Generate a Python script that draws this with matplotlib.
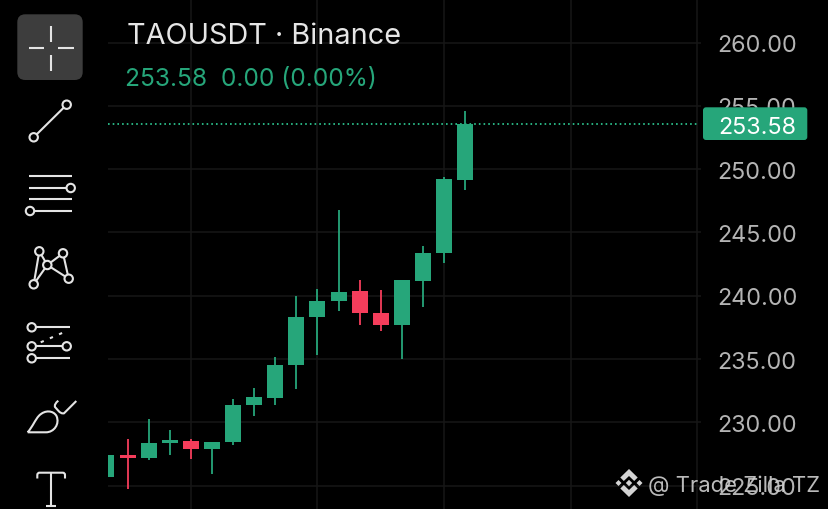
import matplotlib
matplotlib.use("Agg")
import matplotlib.pyplot as plt
from matplotlib.patches import Circle, FancyBboxPatch, PathPatch, Polygon
from matplotlib.path import Path

plt.rcParams['font.family'] = ['Inter', 'DejaVu Sans']

opens = [225.69, 227.45, 227.21, 228.34, 228.55, 227.87, 228.42, 231.40, 231.95,
         234.50, 238.33, 239.56, 240.41, 238.67, 237.70, 241.20, 243.35, 249.18]
highs = [227.39, 228.71, 230.29, 229.42, 228.71, 228.45, 231.82, 232.69, 235.14,
         239.96, 240.54, 246.81, 241.28, 240.46, 241.22, 243.94, 249.36, 254.63]
lows = [225.69, 224.76, 227.00, 227.45, 227.11, 225.89, 228.24, 230.51, 231.34,
        232.66, 235.33, 238.77, 237.72, 237.19, 235.01, 239.12, 242.59, 248.39]
closes = [227.39, 227.21, 228.34, 228.61, 227.87, 228.45, 231.40, 231.98, 234.56,
          238.35, 239.59, 240.30, 238.61, 237.66, 241.22, 243.38, 249.20, 253.58]
price_ticks = [225, 230, 235, 240, 245, 250, 255, 260]
time_grid = [4, 10, 16, 22, 28]
last_price = 253.58
title = "TAOUSDT · Binance"
subtitle = "253.58  0.00 (0.00%)"
watermark = "@ Trade Zilla TZ"

W, H = 829, 510
GREEN = "#26a67a"
RED = "#f53d5b"
GRID = "#171717"
ICON = "#e4e4e4"

fig = plt.figure(figsize=(W / 100, H / 100), dpi=100, facecolor="black")

# main price axes
ax = fig.add_axes([108 / W, 0, (701 - 108) / W, 1], facecolor="black")
ppu = 12.657
ax.set_ylim(260 - (H - 43.6) / ppu, 260 + 43.6 / ppu)
spacing = 21.1
ax.set_xlim((108 - 106.5) / spacing, (701 - 106.5) / spacing)
for s in ax.spines.values():
    s.set_visible(False)
ax.set_yticks(price_ticks)
ax.set_yticklabels([f"{t:.2f}" for t in price_ticks])
ax.yaxis.tick_right()
ax.tick_params(axis='y', length=0, pad=12.0, labelsize=16.8, labelcolor="#b4b4b4")
ax.set_xticks(time_grid)
ax.tick_params(axis='x', length=0, labelbottom=False)
ax.grid(True, color=GRID, lw=1.1)
ax.set_axisbelow(True)

xs = list(range(len(opens)))
colors = [GREEN if c >= o else RED for o, c in zip(opens, closes)]
ax.vlines(xs, lows, highs, colors=colors, lw=1.3, zorder=3)
ax.bar(xs, [abs(c - o) for o, c in zip(opens, closes)],
       bottom=[min(o, c) for o, c in zip(opens, closes)],
       width=16 / spacing, color=colors, zorder=4)
ax.hlines(last_price, ax.get_xlim()[0], time_grid[-1], colors="#2cc08c", lw=1.3,
          linestyles=[(0, (0.9, 1.7))], zorder=2)

# overlay in pixel coordinates: toolbar, headers, price tag, watermark
ov = fig.add_axes([0, 0, 1, 1], facecolor="none")
ov.set_xlim(0, W)
ov.set_ylim(H, 0)
ov.axis("off")

ov.text(127, 44, title, color="#e6e6e6", fontsize=20.8, va="baseline", ha="left")
ov.text(125.5, 86, subtitle, color=GREEN, fontsize=17.7, va="baseline", ha="left")

ov.add_patch(FancyBboxPatch((703, 108.3), 104.3, 32.7, boxstyle="round,pad=0,rounding_size=3",
                            fc=GREEN, ec="none"))
ov.text(718, 125.2, f"{last_price:.2f}", color="white", fontsize=16.8, va="center_baseline", ha="left")


def line(xy, lw=1.5, **kw):
    ov.plot([p[0] for p in xy], [p[1] for p in xy], color=ICON, lw=lw,
            solid_capstyle="butt", **kw)


def ring(x, y, r=4.2):
    ov.add_patch(Circle((x, y), r, fc="black", ec=ICON, lw=1.5, zorder=5))


# crosshair button
ov.add_patch(FancyBboxPatch((17.3, 15.3), 65.4, 65.7, boxstyle="round,pad=0,rounding_size=8",
                            fc="#3d3d3d", ec="none"))
line([(29, 49.3), (44.3, 49.3)])
line([(57.7, 49.3), (74, 49.3)])
line([(51, 27.3), (51, 42.7)])
line([(51, 56), (51, 71.7)])

# trend line
line([(33.7, 138.3), (66.7, 105.7)])
ring(66.7, 105.7)
ring(33.7, 138.3)

# fib
line([(29, 177), (71.7, 177)])
line([(29, 189), (68, 189)])
ring(70.7, 189)
line([(29, 200.3), (71.7, 200.3)])
line([(32, 212), (71.7, 212)])
ring(30, 212)

# pattern
pts = [(33.7, 285.3), (39.3, 252.3), (47.3, 266), (63, 254.3), (68.7, 279.7)]
line([pts[0], pts[1], pts[2], pts[0]])
line([pts[2], pts[3], pts[4], pts[2]])
for p in pts:
    ring(*p)

# channel
line([(33, 328.3), (70, 328.3)])
line([(33, 347.3), (66, 347.3)])
line([(33, 359.3), (70, 359.3)])
line([(40.7, 343.3), (66, 332.3)], ls=(0, (1.6, 3.2)))
ring(31.7, 328.3)
ring(31.7, 347.3)
ring(66.7, 347.3)
ring(31.7, 359.3)

# brush
leaf = Path([(27.7, 433.3), (33, 427), (35, 421), (39, 416.7), (45, 410.5), (53.5, 411.5),
             (56.5, 417), (60, 425), (54, 433.3), (46, 433.3), (40, 433.3), (33, 433.3), (27.7, 433.3)],
            [Path.MOVETO] + [Path.CURVE4] * 12)
ov.add_patch(PathPatch(leaf, fc="none", ec=ICON, lw=1.5))
handle = Path([(58.3, 401.7), (54, 405), (55, 408), (58.3, 411.7), (61, 415), (64, 414.3), (76.3, 402)],
              [Path.MOVETO, Path.CURVE3, Path.CURVE3, Path.LINETO, Path.CURVE3, Path.CURVE3, Path.LINETO])
ov.add_patch(PathPatch(handle, fc="none", ec=ICON, lw=1.5))

# text tool
tbar = Path([(37.3, 479.5), (37.3, 476), (37.3, 473.7), (39.5, 473.7), (62.8, 473.7), (65, 473.7), (65, 476), (65, 479.5)],
            [Path.MOVETO, Path.LINETO, Path.CURVE3, Path.CURVE3, Path.LINETO, Path.CURVE3, Path.CURVE3, Path.LINETO])
ov.add_patch(PathPatch(tbar, fc="none", ec=ICON, lw=1.5))
line([(51.3, 473.7), (51.3, 506.7)])
line([(46.5, 506.7), (56, 506.7)])

# watermark logo
cx, cy = 629, 484
LOGO = "#d4d4d4"


def diamond(x, y, r):
    ov.add_patch(Polygon([(x, y - r), (x + r, y), (x, y + r), (x - r, y)], fc=LOGO, ec="none"))


diamond(cx, cy, 3.2)
diamond(cx - 10.5, cy, 3.0)
diamond(cx + 10.5, cy, 3.0)
for sgn in (-1, 1):
    ov.add_patch(Polygon([(cx, cy + sgn * 14), (cx + 8.7, cy + sgn * 5.5), (cx + 5.2, cy + sgn * 2),
                          (cx, cy + sgn * 7), (cx - 5.2, cy + sgn * 2), (cx - 8.7, cy + sgn * 5.5)],
                         fc=LOGO, ec="none"))
ov.text(648, 492, watermark, color="#cfcfcf", fontsize=15.9, va="baseline", ha="left", alpha=0.9)

fig.savefig("out.png", dpi=100, facecolor="black")
